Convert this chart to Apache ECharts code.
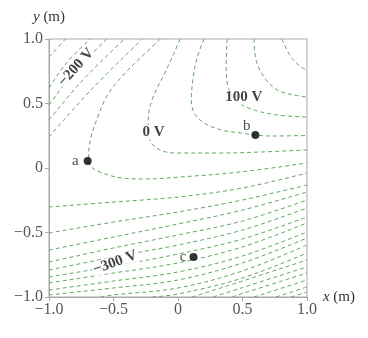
<!DOCTYPE html>
<html><head><meta charset="utf-8">
<script src="https://cdn.jsdelivr.net/npm/echarts@6/dist/echarts.min.js"></script>
<style>html,body{margin:0;padding:0;background:#fff}#c{width:368px;height:338px}</style>
</head><body><div id="c"></div>
<script>
// tick labels
const xTickLabels = ['\u22121.0', '\u22120.5', '0', '0.5', '1.0'];
const yTickLabels = ['\u22121.0', '\u22120.5', '0', '0.5', '1.0'];

// equipotential contours (x, y in m)
const cP200 = [[0.806,1],[0.876,0.86],[0.954,0.783],[1,0.76]];
const cP150 = [[0.59,1],[0.605,0.837],[0.667,0.705],[0.768,0.605],[0.899,0.566],[1,0.55]];
const cP100 = [[0.381,1],[0.373,0.783],[0.396,0.605],[0.474,0.504],[0.59,0.45],[0.768,0.411],[1,0.395]];
const cP50  = [[0.203,1],[0.149,0.86],[0.118,0.705],[0.103,0.527],[0.126,0.426],[0.203,0.349],[0.335,0.295],[0.489,0.271],[0.598,0.256],[0.721,0.248],[1,0.252]];
const c0    = [[0.017,1],[-0.037,0.876],[-0.099,0.744],[-0.161,0.62],[-0.207,0.512],[-0.23,0.395],[-0.23,0.29],[-0.207,0.194],[-0.122,0.132],[0,0.116],[0.327,0.116],[0.636,0.124],[1,0.14]];
const cM50  = [[-0.137,1],[-0.292,0.853],[-0.431,0.713],[-0.547,0.566],[-0.625,0.388],[-0.68,0.217],[-0.694,0.054],[-0.663,0],[-0.563,-0.047],[-0.431,-0.078],[-0.253,-0.085],[0.017,-0.07],[0.482,-0.031],[1,0.039]];
const cM100a = [[-1,0.24],[-0.68,0.60],[-0.277,1]];
const cM150a = [[-1,0.372],[-0.74,0.68],[-0.416,1]];
const cM200a = [[-1,0.488],[-0.80,0.75],[-0.55,1]];
const cM250a = [[-1,0.62],[-0.86,0.82],[-0.68,1]];
const cM300a = [[-1,0.86],[-0.872,1]];
const cM100 = [[-1,-0.302],[-0.5,-0.264],[0,-0.225],[0.5,-0.155],[1,-0.039]];
const cM150 = [[-1,-0.504],[-0.5,-0.419],[0,-0.341],[0.5,-0.248],[1,-0.132]];
const cM200 = [[-1,-0.636],[-0.5,-0.535],[0,-0.434],[0.5,-0.326],[1,-0.186]];
const cM250 = [[-1,-0.729],[-0.5,-0.62],[0,-0.519],[0.5,-0.411],[1,-0.248]];
const cM300 = [[-1,-0.791],[-0.5,-0.69],[0,-0.597],[0.5,-0.481],[1,-0.31]];
const cM350 = [[-1,-0.845],[-0.5,-0.76],[0,-0.667],[0.5,-0.55],[1,-0.38]];
const cM400 = [[-1,-0.891],[-0.5,-0.814],[0,-0.736],[0.5,-0.612],[1,-0.426]];
const cM450 = [[-1,-0.946],[-0.5,-0.876],[0,-0.806],[0.5,-0.682],[1,-0.496]];
const cM500 = [[-1,-0.984],[-0.5,-0.93],[0,-0.868],[0.5,-0.736],[1,-0.543]];
const cM550 = [[-0.602,-1],[-0.5,-0.984],[0,-0.93],[0.5,-0.798],[1,-0.597]];
const cM600 = [[-0.199,-1],[0,-0.977],[0.5,-0.853],[1,-0.659]];
const cM650 = [[0.11,-1],[0.5,-0.876],[1,-0.713]];
const cM700 = [[0.273,-1],[0.5,-0.927],[1,-0.767]];
const cM750 = [[0.42,-1],[0.5,-0.973],[1,-0.814]];
const cM800 = [[0.59,-1],[1,-0.868]];
const cM850 = [[0.76,-1],[1,-0.922]];
const cM900 = [[0.876,-1],[1,-0.961]];

// labelled points
const pointNames = ['a', 'b', 'c'];
const pointX = [-0.70, 0.60, 0.12];
const pointY = [0.054, 0.256, -0.69];

// contour value labels
const contourLabelText = ['\u2212200 V', '0 V', '100 V', '\u2212300 V'];
const contourLabelX = [-0.79, -0.19, 0.51, -0.488];
const contourLabelY = [0.78, 0.275, 0.55, -0.733];
const contourLabelAngle = [48, 0, 0, 20];

const contours = [cP200,cP150,cP100,cP50,c0,cM50,cM100a,cM150a,cM200a,cM250a,cM300a,
  cM100,cM150,cM200,cM250,cM300,cM350,cM400,cM450,cM500,cM550,cM600,cM650,cM700,cM750,cM800,cM850,cM900];

const serif = '"Liberation Serif", "DejaVu Serif", serif';
const axisGray = '#a8a8a8';
const lineColor = '#62a862';

const series = contours.map(d => ({
  type: 'line', data: d, smooth: 0.35, symbol: 'none', silent: true, z: 2,
  lineStyle: { color: lineColor, width: 1, type: [4, 3] }
}));

series.push({
  type: 'scatter', z: 5, symbolSize: 1,
  itemStyle: { color: 'rgba(0,0,0,0)' },
  data: contourLabelText.map((t, i) => ({
    value: [contourLabelX[i], contourLabelY[i]], name: t,
    label: { rotate: contourLabelAngle[i] }
  })),
  label: {
    show: true, position: 'inside', formatter: p => p.name,
    fontFamily: serif, fontWeight: 'bold', fontSize: 15, color: '#111',
    backgroundColor: '#fff', padding: [0, 1]
  }
});

const pointLabelPos = ['left', 'left', 'left'];
const pointLabelOffset = [[0, 0], [4, -9], [0, 0]];
series.push({
  type: 'scatter', z: 6, symbolSize: 8,
  itemStyle: { color: '#000' },
  data: pointNames.map((n, i) => ({
    value: [pointX[i], pointY[i]], name: n,
    label: { position: pointLabelPos[i], offset: pointLabelOffset[i], distance: i === 2 ? 3 : 5 }
  })),
  label: { show: true, formatter: p => p.name, fontFamily: serif, fontSize: 15, color: '#222' }
});

const chart = echarts.init(document.getElementById('c'), null, { renderer: 'canvas' });
chart.setOption({
  animation: false,
  backgroundColor: '#fff',
  grid: { left: 49, right: 61, top: 39, bottom: 41, show: true, borderColor: axisGray, borderWidth: 1,
          containLabel: false, outerBoundsMode: 'none' },
  xAxis: {
    type: 'value', min: -1, max: 1, interval: 0.5,
    name: '{i|x} (m)', nameLocation: 'end', nameGap: 6,
    nameTextStyle: { fontFamily: serif, fontSize: 15, color: '#333', verticalAlign: 'middle',
      rich: { i: { fontFamily: serif, fontSize: 15, fontStyle: 'italic', color: '#333' } } },
    axisLine: { show: true, onZero: false, lineStyle: { color: axisGray } },
    axisTick: { show: true, inside: false, length: 4, lineStyle: { color: axisGray } },
    splitLine: { show: false },
    axisLabel: { fontFamily: serif, fontSize: 16, color: '#555', margin: 5,
      formatter: v => xTickLabels[Math.round((v + 1) / 0.5)] }
  },
  yAxis: {
    type: 'value', min: -1, max: 1, interval: 0.5,
    name: '{i|y} (m)', nameLocation: 'end', nameGap: 14,
    nameTextStyle: { fontFamily: serif, fontSize: 15, color: '#333', align: 'center',
      rich: { i: { fontFamily: serif, fontSize: 15, fontStyle: 'italic', color: '#333' } } },
    axisLine: { show: true, onZero: false, lineStyle: { color: axisGray } },
    axisTick: { show: true, inside: false, length: 4, lineStyle: { color: axisGray } },
    splitLine: { show: false },
    axisLabel: { fontFamily: serif, fontSize: 16, color: '#555', margin: 6,
      formatter: v => yTickLabels[Math.round((v + 1) / 0.5)] }
  },
  series: series
});
</script>
</body></html>
